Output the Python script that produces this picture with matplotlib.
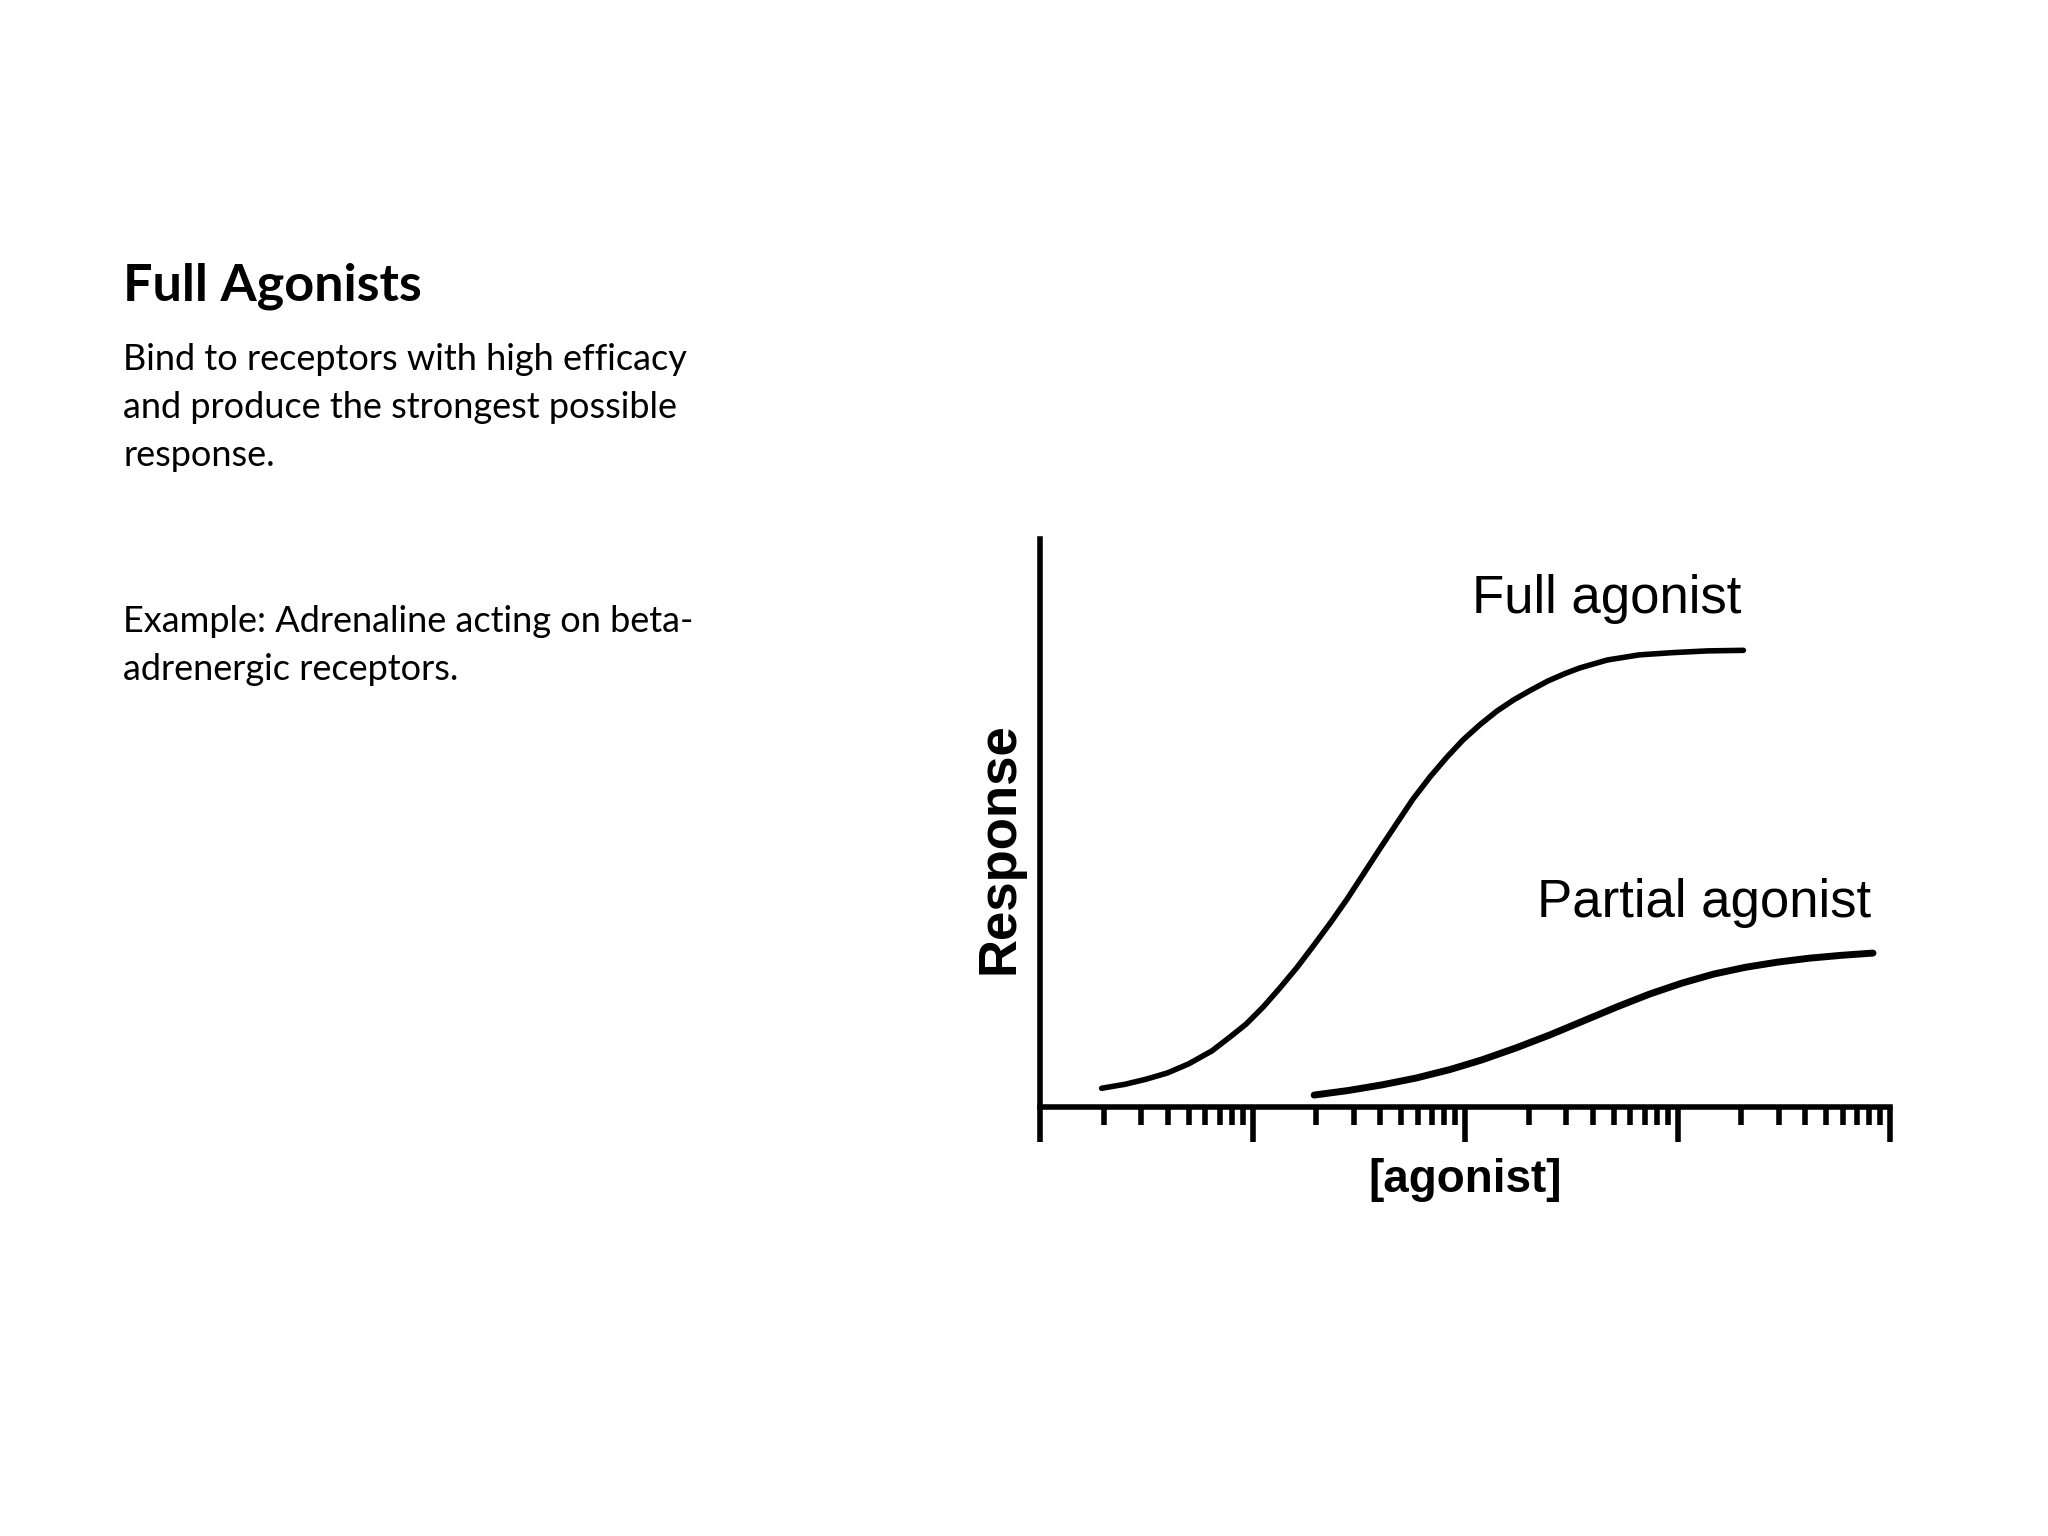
import numpy as np
import matplotlib
matplotlib.use("Agg")
import matplotlib.pyplot as plt

# slide text
title = "Full Agonists"
body_lines = [
    "Bind to receptors with high efficacy",
    "and produce the strongest possible",
    "response.",
]
example_lines = [
    "Example: Adrenaline acting on beta-",
    "adrenergic receptors.",
]

# curves: log10 [agonist] vs response (% of axis height)
full_logc = [0.29, 0.40, 0.50, 0.60, 0.70, 0.81, 0.90, 0.97, 1.05, 1.13, 1.21,
             1.285, 1.37, 1.445, 1.52, 1.60, 1.68, 1.755, 1.835, 1.915, 1.99,
             2.07, 2.15, 2.23, 2.31, 2.39, 2.47, 2.54, 2.67, 2.82, 2.98, 3.14, 3.31]
full_resp = [3.3, 4.0, 4.9, 6.0, 7.6, 9.9, 12.5, 14.6, 17.6, 21.0, 24.6,
             28.3, 32.6, 36.6, 40.9, 45.5, 50.0, 54.2, 58.1, 61.6, 64.6,
             67.3, 69.7, 71.7, 73.4, 75.0, 76.3, 77.3, 78.7, 79.6, 80.0, 80.3, 80.4]

partial_logc = [1.29, 1.45, 1.61, 1.77, 1.93, 2.08, 2.24, 2.40, 2.56, 2.72,
                2.87, 3.02, 3.17, 3.32, 3.47, 3.62, 3.77, 3.92]
partial_resp = [2.1, 2.9, 3.9, 5.1, 6.6, 8.3, 10.4, 12.7, 15.2, 17.7,
                19.9, 21.8, 23.4, 24.6, 25.5, 26.2, 26.7, 27.1]

W, H = 2048, 1536


def fx(px):
    return px / W


def fy(py):
    return 1 - py / H


fig = plt.figure(figsize=(20.48, 15.36), dpi=100)
fig.patch.set_facecolor("white")

# left-hand text block
fig.text(fx(123), fy(300), title, family="Lato", weight="bold", fontsize=37.5,
         va="baseline", ha="left")
for i, line in enumerate(body_lines):
    fig.text(fx(123), fy(370 + 48 * i), line, family="Lato", fontsize=26,
             va="baseline", ha="left")
for i, line in enumerate(example_lines):
    fig.text(fx(123), fy(632 + 48 * i), line, family="Lato", fontsize=26,
             va="baseline", ha="left")

# dose-response chart
ax = fig.add_axes([fx(1040), fy(1107), fx(1890) - fx(1040), fy(539) - fy(1107)])
ax.plot(10 ** np.array(full_logc), full_resp, color="black", lw=4,
        solid_capstyle="round", solid_joinstyle="round")
ax.plot(10 ** np.array(partial_logc), partial_resp, color="black", lw=5,
        solid_capstyle="round", solid_joinstyle="round")

ax.set_xscale("log")
ax.set_xlim(1, 1e4)
ax.set_ylim(0, 100)
ax.spines["top"].set_visible(False)
ax.spines["right"].set_visible(False)
ax.spines["left"].set_linewidth(4)
ax.spines["bottom"].set_linewidth(4)
ax.set_yticks([])
ax.xaxis.set_major_locator(matplotlib.ticker.LogLocator(base=10, numticks=10))
ax.xaxis.set_minor_locator(matplotlib.ticker.LogLocator(base=10, subs=np.arange(2, 10), numticks=20))
ax.xaxis.set_major_formatter(matplotlib.ticker.NullFormatter())
ax.xaxis.set_minor_formatter(matplotlib.ticker.NullFormatter())
ax.tick_params(axis="x", which="major", direction="out", length=25, width=4)
ax.tick_params(axis="x", which="minor", direction="out", length=13, width=4)

# axis titles
fig.text(fx(1465), fy(1180), "[agonist]", family="Liberation Sans",
         weight="bold", fontsize=33, ha="center", va="center")
fig.text(fx(999), fy(848), "Response", family="Liberation Sans",
         weight="bold", fontsize=38, rotation=90, ha="center", va="center")

fig.text(fx(1472), fy(613), "Full agonist", family="Liberation Sans",
         fontsize=38, va="baseline", ha="left")
fig.text(fx(1537), fy(917), "Partial agonist", family="Liberation Sans",
         fontsize=38, va="baseline", ha="left")

fig.savefig("out.png", dpi=100, facecolor="white")
